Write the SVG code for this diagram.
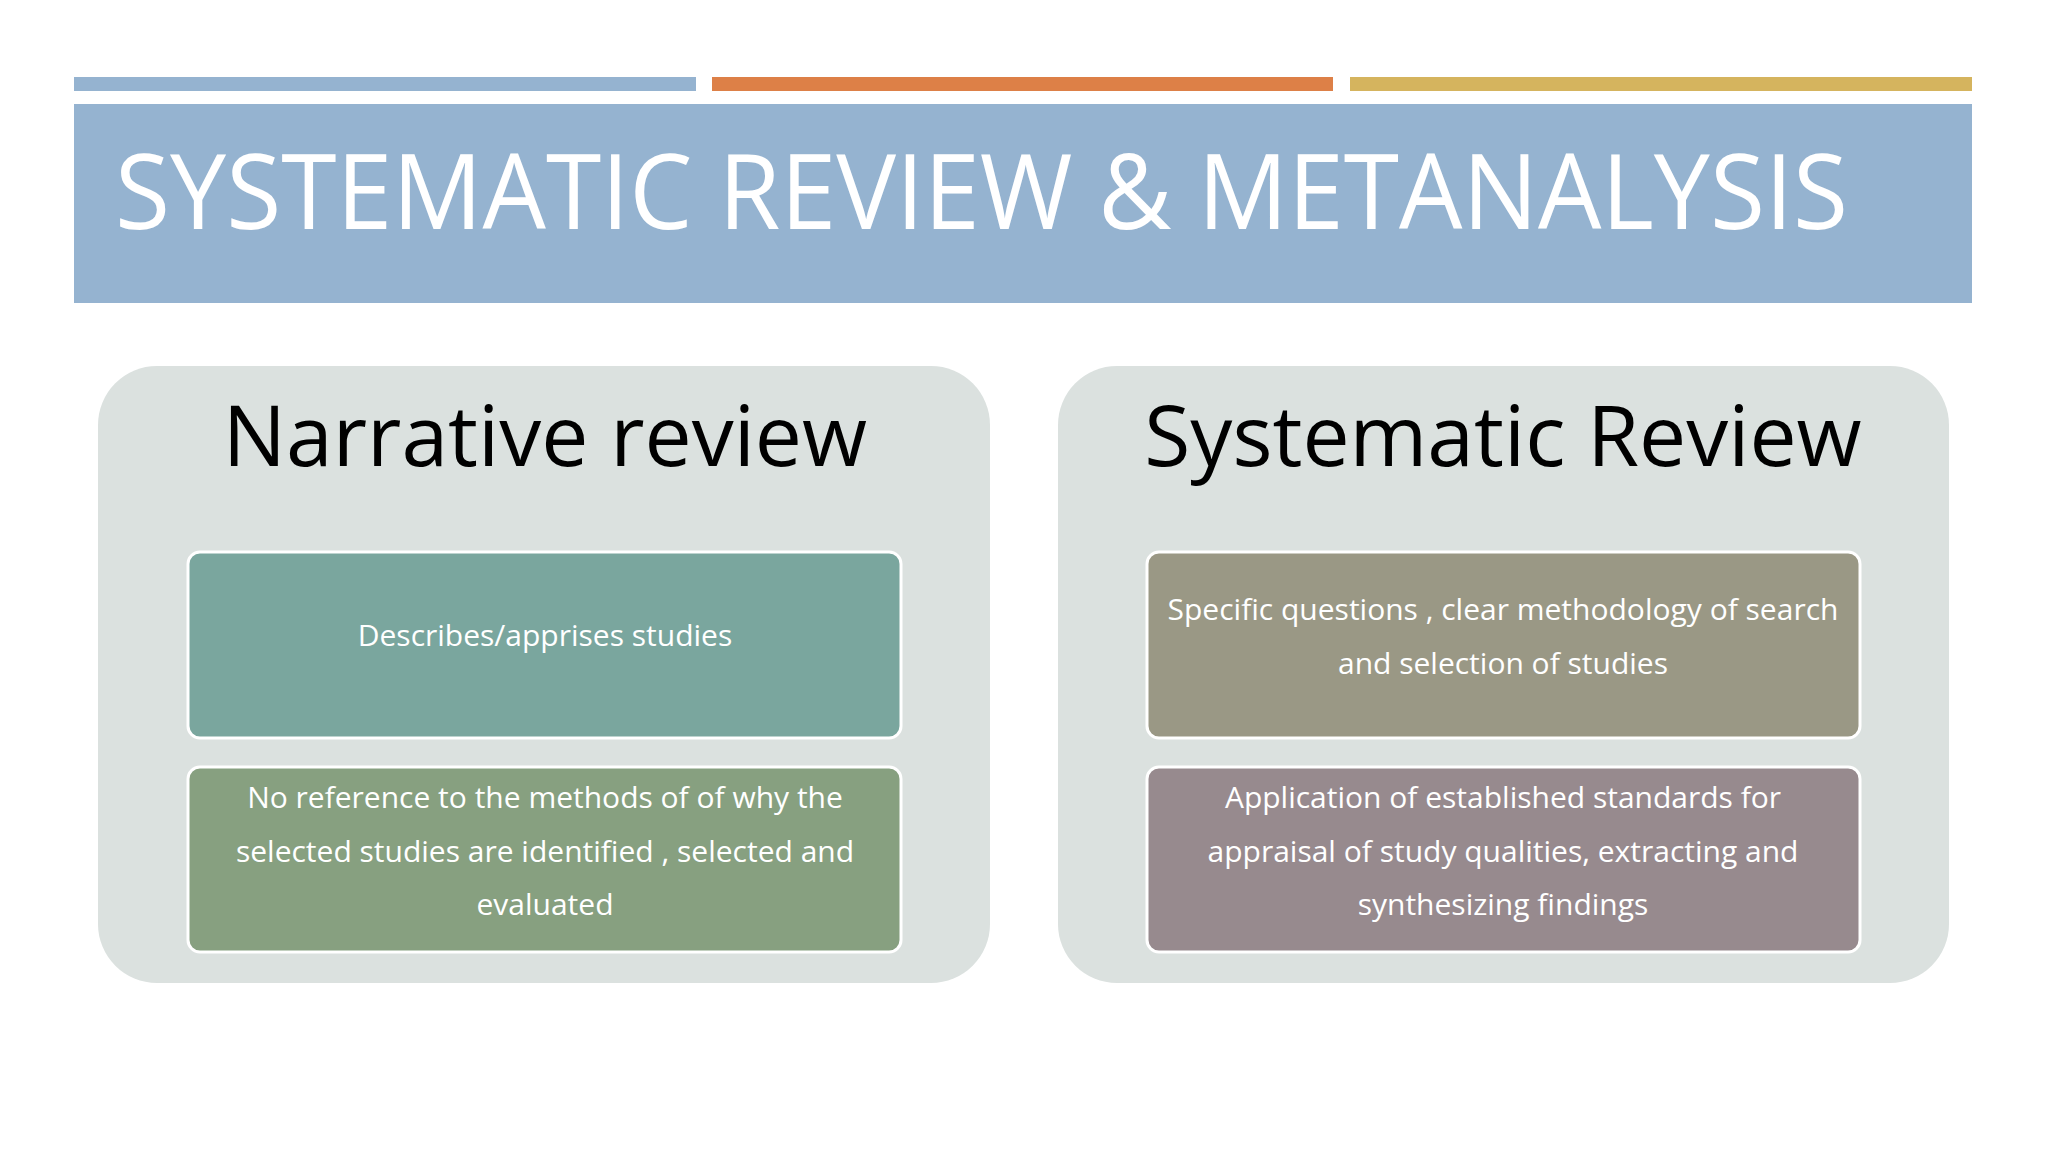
<svg xmlns="http://www.w3.org/2000/svg" width="2048" height="1152" viewBox="0 0 2048 1152">
<style>
.panel{fill:#dbe1df}
.box{stroke:#fff;stroke-width:3}
.h{font-family:"Open Sans","Noto Sans",sans-serif;font-size:84px;fill:#000;text-anchor:middle}
.t{font-family:"Open Sans","Noto Sans",sans-serif;font-size:30px;fill:#fff;text-anchor:middle}
</style>
<rect width="2048" height="1152" fill="#fff"/>
<g id="bars">
<rect x="74" y="77" width="622" height="14" fill="#95b3d0"/>
<rect x="712" y="77" width="621" height="14" fill="#dd8047"/>
<rect x="1350" y="77" width="622" height="14" fill="#d5b45e"/>
</g>
<g id="title">
<rect x="74" y="104" width="1898" height="199" fill="#95b3d0"/>
<text x="115" y="229" font-family="'Open Sans','Noto Sans',sans-serif" font-size="104" fill="#fff" textLength="1733" lengthAdjust="spacingAndGlyphs">SYSTEMATIC REVIEW &amp; METANALYSIS</text>
</g>
<g id="narrative">
<rect class="panel" x="98" y="366" width="892" height="617" rx="59"/>
<text class="h" x="545" y="466">Narrative review</text>
</g>
<g id="n1">
<rect class="box" x="188" y="552" width="713" height="186" rx="12" fill="#7aa69e"/>
<text class="t" x="545" y="646">Describes/apprises studies</text>
</g>
<g id="n2">
<rect class="box" x="188" y="767" width="713" height="185" rx="12" fill="#87a080"/>
<text class="t" x="545" y="808">No reference to the methods of of why the</text>
<text class="t" x="545" y="862">selected studies are identified , selected and</text>
<text class="t" x="545" y="915">evaluated</text>
</g>
<g id="systematic">
<rect class="panel" x="1058" y="366" width="891" height="617" rx="59"/>
<text class="h" x="1503" y="466">Systematic Review</text>
</g>
<g id="s1">
<rect class="box" x="1147" y="552" width="713" height="186" rx="12" fill="#9a9885"/>
<text class="t" x="1503" y="620">Specific questions , clear methodology of search</text>
<text class="t" x="1503" y="674">and selection of studies</text>
</g>
<g id="s2">
<rect class="box" x="1147" y="767" width="713" height="185" rx="12" fill="#978a8e"/>
<text class="t" x="1503" y="808">Application of established standards for</text>
<text class="t" x="1503" y="862">appraisal of study qualities, extracting and</text>
<text class="t" x="1503" y="915">synthesizing findings</text>
</g>
<g id="connectors"></g>
</svg>
